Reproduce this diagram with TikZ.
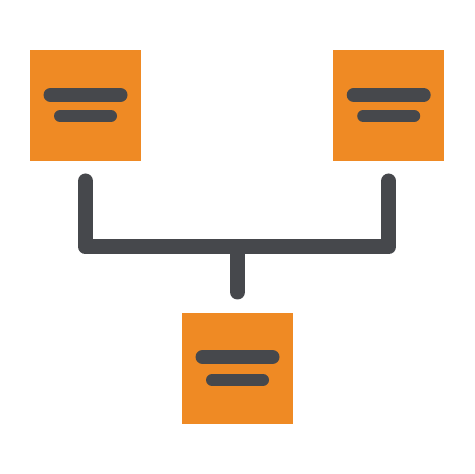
\documentclass[tikz,border=0pt]{standalone}
\usetikzlibrary{calc,positioning}

\definecolor{boxorange}{RGB}{239,138,36}
\definecolor{bardark}{RGB}{70,72,76}

\tikzset{
	box/.style={fill=boxorange, minimum size=55.5pt, inner sep=0pt, outer sep=0pt},
	bar/.style={draw=bardark, line width=7pt, line cap=round},
	shortbar/.style={bar, line width=6pt},
	wire/.style={draw=bardark, line width=7.5pt, line cap=round, line join=round}
}

\begin{document}
\begin{tikzpicture}[x=0.5pt,y=-0.5pt]

	% ---- frame

	\useasboundingbox (0,0) rectangle (474,474);

	% ---- boxes

	\node[box] (left) at (85.5,105.5) {};
	\node[box] (right) at (388.7,105.5) {};
	\node[box] (bottom) at (237.5,368.5) {};

	% ---- lines in the boxes

	\foreach \n/\o in {left/10.5, right/10.5, bottom/11.5} {
		\draw[bar] ($(\n)+(-35,-\o)$) -- ($(\n)+(35,-\o)$);
		\draw[shortbar] ($(\n)+(-25.5,\o)$) -- ($(\n)+(25.5,\o)$);
	}

	% ---- connector

	\coordinate (lefttip) at ($(left.south)+(0,20)$);
	\coordinate (righttip) at ($(right.south)+(0,20)$);
	\coordinate (bottomtip) at ($(bottom.north)+(0,-21)$);
	\coordinate (joint) at (237.5,247);

	\draw[wire] (lefttip) -- (lefttip |- joint) -- (righttip |- joint) -- (righttip);
	\draw[wire] (joint) -- (bottomtip);

\end{tikzpicture}
\end{document}
